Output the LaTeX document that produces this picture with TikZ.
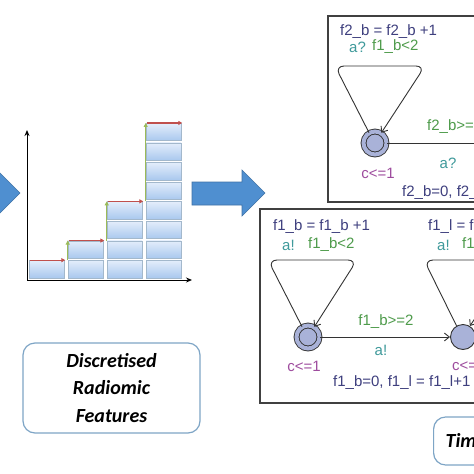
\documentclass[tikz,border=0pt]{standalone}
\usepackage{fontspec}
\setmainfont{Liberation Sans}
\newfontfamily\calfont{Carlito}
\usepackage{xcolor}
\usepackage{tikz}
\usetikzlibrary{arrows.meta, positioning, shapes.geometric}

\definecolor{updcol}{HTML}{3E3F7E}
\definecolor{synccol}{HTML}{3F9A9B}
\definecolor{grdcol}{HTML}{4E9B4B}
\definecolor{invcol}{HTML}{9E4C9E}
\definecolor{locfill}{HTML}{A9B2D8}
\definecolor{bigblue}{HTML}{4F8FD0}
\definecolor{barred}{HTML}{C0504D}
\definecolor{bargreen}{HTML}{9BBB59}
\definecolor{blktop}{HTML}{E3EDFB}
\definecolor{blkbot}{HTML}{A9C8EE}
\definecolor{blkline}{HTML}{A3B8CC}
\definecolor{capline}{HTML}{7EA5C6}

\begin{document}
\begin{tikzpicture}[x=1pt, y=-1pt,
  blk/.style={rectangle, draw=blkline, top color=blktop, bottom color=blkbot,
              minimum width=35pt, minimum height=17.5pt, inner sep=0pt, line width=0.6pt},
  axis/.style={-{Stealth[length=6pt, width=5pt]}, line width=1pt, draw=black},
  redarr/.style={-{Triangle[length=4pt, width=4pt]}, line width=1.1pt, draw=barred},
  grnarr/.style={-{Triangle[length=4pt, width=4pt]}, line width=1.1pt, draw=bargreen},
  bigarr/.style={fill=bigblue, draw=bigblue!80!black, line width=0.6pt},
  panel/.style={draw=black!75, line width=1.3pt},
  loc/.style={circle, draw=black!80, fill=locfill, minimum size=25pt, inner sep=0pt, line width=0.9pt},
  initloc/.style={loc, minimum size=23pt, double=locfill, double distance=4pt},
  edge/.style={draw=black!80, line width=0.9pt},
  loopedge/.style={edge, rounded corners=9pt, -{Straight Barb[length=5pt, width=8pt]}},
  lbl/.style={font=\fontsize{15}{17}\selectfont, inner sep=0pt},
  upd/.style={lbl, text=updcol},
  sync/.style={lbl, text=synccol},
  grd/.style={lbl, text=grdcol},
  inv/.style={lbl, text=invcol},
  capbox/.style={rectangle, draw=capline, line width=1.2pt, rounded corners=12pt,
                 font=\calfont\bfseries\itshape\fontsize{20}{27.5}\selectfont, align=center}
]
  \useasboundingbox (0,0) rectangle (474,474);
  \fill[white] (0,0) rectangle (474,474);
  \clip (0,0) rectangle (474,474);

  % incoming arrow and arrow to the automata
  \fill[bigarr] (-40,182) -- (-3,182) -- (-3,170) -- (20,193) -- (-3,216) -- (-3,205) -- (-40,205) -- cycle;
  \fill[bigarr] (192,182) -- (242,182) -- (242,170) -- (265,193) -- (242,216) -- (242,205) -- (192,205) -- cycle;

  % discretised feature levels
  \foreach \c/\n in {1/1, 2/2, 3/4, 4/8} {
    \foreach \r in {1,...,\n} {
      \node[blk] (b\c-\r) at ({46.5+39*(\c-1)}, {269.2-19.6*(\r-1)}) {};
    }
    \draw[redarr] ([xshift=1pt]b\c-\n.north west) -- ([xshift=1pt]b\c-\n.north east);
  }
  \draw[grnarr] (b1-1.north -| b2-1.west) -- (b2-2.north west);
  \draw[grnarr] (b2-2.north -| b3-1.west) -- (b3-4.north west);
  \draw[grnarr] (b3-4.north -| b4-1.west) -- (b4-8.north west);

  \coordinate (origin) at (27,280);
  \coordinate (ytop) at (27,130);
  \coordinate (xend) at (192,280);
  \draw[axis] (origin) -- (ytop);
  \draw[axis] (origin) -- (xend);

  \node[capbox, minimum width=177pt, minimum height=90pt] (disc) at (111.5,388)
    {Discretised\\Radiomic\\Features};

  % automaton for f2
  \draw[panel] (328,16) rectangle (560,202);
  \node[initloc] (s20) at (375,143) {};
  \coordinate (c20a) at (335,66);
  \coordinate (c20b) at (425,66);
  \coordinate (t2out) at (560,143);
  \draw[loopedge] (s20.120) -- (c20a) -- (c20b) -- (s20.58);
  \draw[edge] (s20) -- (t2out);
  \node[upd, anchor=west] (u20) at (340,32) {f2\_b = f2\_b +1};
  \node[sync, anchor=west] (y20) at (349,47) {a?};
  \node[grd, anchor=west] (g20) at (372,47) {f1\_b<2};
  \node[grd, anchor=west] (g21) at (427,127) {f2\_b>=2};
  \node[sync] (y21) at (448,163) {a?};
  \node[inv] (i20) at (378,173) {c<=1};
  \node[upd, anchor=west] (u21) at (402,193) {f2\_b=0, f2\_l = f2\_l+1};

  % automaton for f1
  \draw[panel] (260,209) rectangle (560,403);
  \node[initloc] (s10) at (308,337) {};
  \node[loc] (s11) at (463,337) {};
  \coordinate (c10a) at (268,260);
  \coordinate (c10b) at (357,260);
  \coordinate (c11a) at (424,260);
  \coordinate (c11b) at (514,260);
  \draw[loopedge] (s10.120) -- (c10a) -- (c10b) -- (s10.58);
  \draw[loopedge] (s11.120) -- (c11a) -- (c11b) -- (s11.58);
  \draw[edge, -{Straight Barb[length=5pt, width=8pt]}] (s10) -- (s11);
  \node[upd, anchor=west] (u10) at (273,227) {f1\_b = f1\_b +1};
  \node[sync, anchor=west] (y10) at (282,245) {a!};
  \node[grd, anchor=west] (g10) at (308,245) {f1\_b<2};
  \node[upd, anchor=west] (u11) at (428,227) {f1\_l = f1\_l +1};
  \node[sync, anchor=west] (y11) at (437,245) {a!};
  \node[grd, anchor=west] (g11) at (462,245) {f1\_l<2};
  \node[grd] (g12) at (386,322) {f1\_b>=2};
  \node[sync] (y12) at (381,350) {a!};
  \node[inv] (i10) at (304,366) {c<=1};
  \node[inv, anchor=west] (i11) at (452,365) {c<=1};
  \node[upd, anchor=west] (u12) at (333,383) {f1\_b=0, f1\_l = f1\_l+1};

  \node[capbox, anchor=west, inner xsep=12pt, minimum height=48pt] (ta) at (433,441) {Timed Automata};
\end{tikzpicture}
\end{document}
